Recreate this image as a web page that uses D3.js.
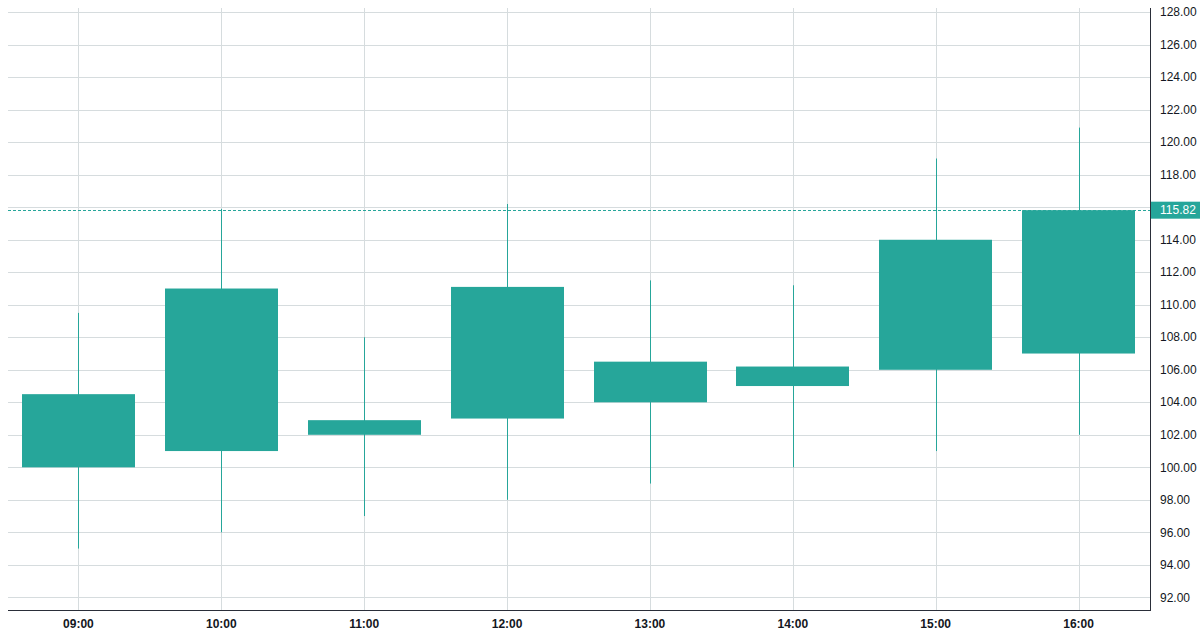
<!DOCTYPE html>
<html>
<head>
<meta charset="utf-8">
<script src="https://cdn.jsdelivr.net/npm/d3@7/dist/d3.min.js"></script>
<style>
  html, body { margin: 0; padding: 0; background: #ffffff; }
  svg { display: block; }
  text { font-family: "Liberation Sans", Arial, Helvetica, sans-serif; }
</style>
</head>
<body>
<svg id="chart" width="1200" height="630"></svg>
<script>
// ---- data ----
const times = ["09:00", "10:00", "11:00", "12:00", "13:00", "14:00", "15:00", "16:00"];
const opens  = [100.0, 101.0, 102.0, 103.0, 104.0, 105.0, 106.0, 107.0];
const highs  = [109.5, 115.9, 108.0, 116.2, 111.5, 111.2, 119.0, 120.9];
const lows   = [95.0,  96.0,  97.0,  98.0,  99.0,  100.0, 101.0, 102.0];
const closes = [104.5, 111.0, 102.9, 111.1, 106.5, 106.2, 114.0, 115.82];
const priceTicks = [92, 94, 96, 98, 100, 102, 104, 106, 108, 110, 112, 114, 116, 118, 120, 122, 124, 126, 128];
const lastPrice = 115.82;
const priceDomain = [91.22, 128.26];

const candles = times.map((t, i) => ({ t, o: opens[i], h: highs[i], l: lows[i], c: closes[i] }));

// ---- layout ----
const W = 1200, H = 630;
const plotL = 8, plotR = 1150, plotT = 8, plotB = 610;
const upColor = "#26a69a";
const gridColor = "#d6dcde";
const axisColor = "#2a2e39";
const textColor = "#131722";

const svg = d3.select("#chart");

const x = d3.scaleBand().domain(times).range([7, plotR]).paddingInner(0).paddingOuter(0);
const y = d3.scaleLinear().domain(priceDomain).range([plotB, plotT]);
const bodyW = x.bandwidth() * 0.79;
const cx = t => x(t) + x.bandwidth() / 2;

// grid
const grid = svg.append("g");
grid.selectAll("line.h").data(priceTicks).join("line")
  .attr("class", "h")
  .attr("x1", plotL).attr("x2", plotR)
  .attr("y1", d => Math.round(y(d)) + 0.5).attr("y2", d => Math.round(y(d)) + 0.5)
  .attr("stroke", gridColor).attr("stroke-width", 1);
grid.selectAll("line.v").data(times).join("line")
  .attr("class", "v")
  .attr("x1", d => Math.round(cx(d)) + 0.5).attr("x2", d => Math.round(cx(d)) + 0.5)
  .attr("y1", plotT).attr("y2", plotB)
  .attr("stroke", gridColor).attr("stroke-width", 1);

// candles
const cg = svg.append("g");
cg.selectAll("line.wick").data(candles).join("line")
  .attr("class", "wick")
  .attr("x1", d => Math.round(cx(d.t)) + 0.5).attr("x2", d => Math.round(cx(d.t)) + 0.5)
  .attr("y1", d => y(d.h)).attr("y2", d => y(d.l))
  .attr("stroke", upColor).attr("stroke-width", 1);
cg.selectAll("rect.body").data(candles).join("rect")
  .attr("class", "body")
  .attr("x", d => Math.round(cx(d.t) - bodyW / 2))
  .attr("width", Math.round(bodyW))
  .attr("y", d => y(Math.max(d.o, d.c)))
  .attr("height", d => Math.max(1, Math.abs(y(d.o) - y(d.c))))
  .attr("fill", upColor);

// last price line
svg.append("line")
  .attr("x1", plotL).attr("x2", plotR)
  .attr("y1", Math.round(y(lastPrice)) + 0.5).attr("y2", Math.round(y(lastPrice)) + 0.5)
  .attr("stroke", upColor).attr("stroke-width", 1).attr("stroke-dasharray", "3,2");

// axes lines
svg.append("line").attr("x1", plotR + 0.5).attr("x2", plotR + 0.5).attr("y1", 8).attr("y2", plotB + 1)
  .attr("stroke", axisColor).attr("stroke-width", 1);
svg.append("line").attr("x1", plotL).attr("x2", plotR).attr("y1", plotB + 0.5).attr("y2", plotB + 0.5)
  .attr("stroke", axisColor).attr("stroke-width", 1);

// price axis labels (those hidden behind the last-price label are skipped)
const ly = y(lastPrice);
const yAxis = svg.append("g");
yAxis.selectAll("text").data(priceTicks.filter(d => Math.abs(y(d) - ly) > 14)).join("text")
  .attr("x", 1160).attr("y", d => y(d)).attr("dy", "0.35em")
  .attr("font-size", 12).attr("fill", textColor)
  .text(d => d3.format(".2f")(d));

// last price label
svg.append("rect").attr("x", plotR + 1).attr("y", ly - 8.5).attr("width", W - plotR - 1).attr("height", 17)
  .attr("fill", upColor);
svg.append("text").attr("x", 1160).attr("y", ly).attr("dy", "0.35em")
  .attr("font-size", 12).attr("fill", "#ffffff").text(d3.format(".2f")(lastPrice));

// time axis labels
svg.append("g").selectAll("text").data(times).join("text")
  .attr("x", d => cx(d)).attr("y", 624).attr("dy", "0.35em")
  .attr("text-anchor", "middle").attr("font-size", 12).attr("font-weight", "bold")
  .attr("fill", textColor).text(d => d);
</script>
</body>
</html>
